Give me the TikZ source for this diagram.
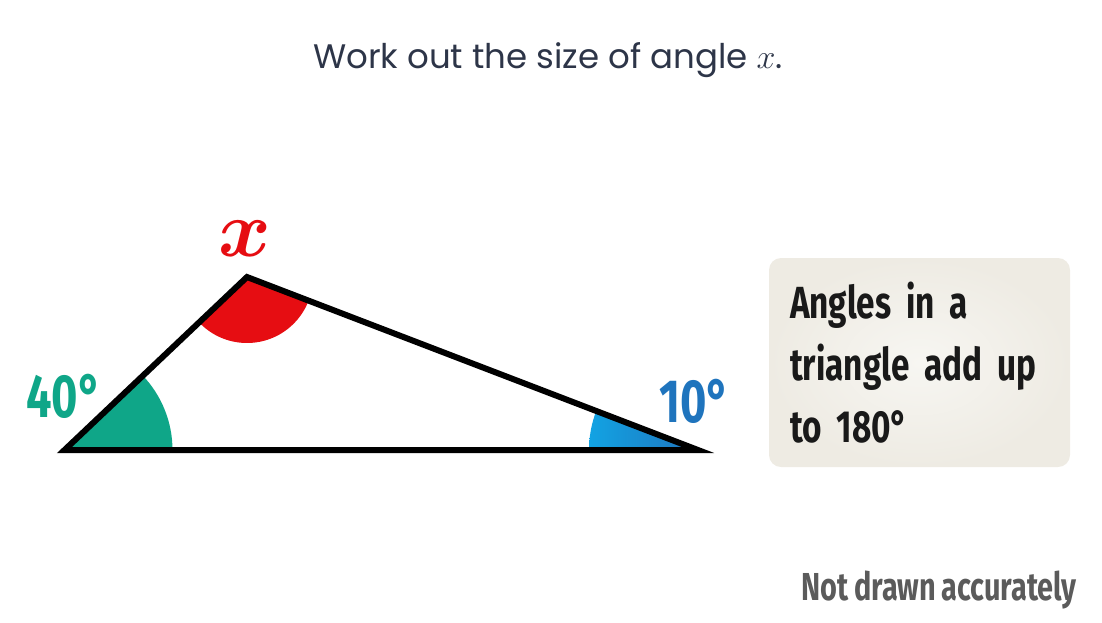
\RequirePackage{fix-cm}
\documentclass[tikz,border=0pt]{standalone}
\usepackage{fontspec}
\usepackage{bm}
\usepackage{tikz}
\usetikzlibrary{angles,positioning}
\setmainfont{Poppins}
\newfontfamily\condfont[FakeStretch=0.74, WordSpace=0.8]{Fira Sans}
\definecolor{titlegrey}{HTML}{2D3548}
\definecolor{xred}{HTML}{E60D12}
\definecolor{fortygreen}{HTML}{0FA688}
\definecolor{tenblue}{HTML}{1F74BD}
\definecolor{lightblue}{HTML}{12A3E3}
\definecolor{boxfill}{HTML}{EEEBE3}
\definecolor{boxinner}{HTML}{F7F6F2}
\definecolor{notegrey}{HTML}{5B5B5B}
\tikzstyle{side} = [line width=6pt, line join=miter]
\tikzstyle{anglelabel} = [font=\condfont\bfseries\fontsize{61}{61}\selectfont, inner sep=0pt]
\tikzstyle{unknown} = [font=\fontsize{80}{80}\selectfont, text=xred, inner sep=0pt]
\tikzstyle{hintbox} = [rectangle, rounded corners=12pt, inner color=boxinner, outer color=boxfill,
    minimum width=301pt, minimum height=209pt, inner xsep=21pt, text width=259pt, align=left,
    font=\condfont\bfseries\fontsize{45}{62}\selectfont, text=black!90]

\begin{document}
\begin{tikzpicture}[x=1pt,y=-1pt]
\useasboundingbox (0,0) rectangle (1102,622);

\node [font=\fontsize{34}{34}\selectfont, text=titlegrey, anchor=base] (title) at (548,68) {Work out the size of angle $x$.};

\coordinate (A) at (64.5,450);
\coordinate (B) at (247,277);
\coordinate (C) at (698,450);

% angle sectors
\pic [fill=fortygreen, angle radius=108pt] {angle=C--A--B};
\pic [fill=xred, angle radius=66pt] {angle=A--B--C};
\pic [left color=lightblue, right color=tenblue, angle radius=109pt] {angle=B--C--A};

\draw [side] (A) -- (B) -- (C) -- cycle;

\node [anglelabel, text=fortygreen] (forty) at (64,396) {40°};
\node [anglelabel, text=tenblue] (ten) at (695,401) {10°};
\node [unknown] (xmark) at (245,239) {$\bm{x}$};

\node [hintbox] (hint) at (919.5,362.5) {Angles in a\\triangle add up\\to 180°\\[-10pt]};

\node [font=\condfont\bfseries\fontsize{39}{39}\selectfont, text=notegrey, anchor=base east, inner sep=0pt] (note) at (1077,600) {Not drawn accurately};

\end{tikzpicture}
\end{document}
